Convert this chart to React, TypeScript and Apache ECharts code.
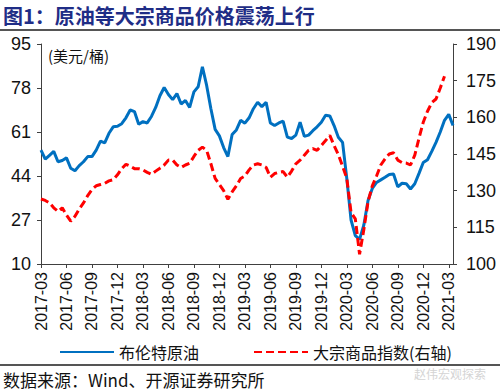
import React, { useEffect, useRef } from "react";
import * as echarts from "echarts";

// Half-monthly observation dates, 2017-03-01 .. 2021-03-16
const dates: string[] = [];
for (let i = 0; i < 98; i++) {
  const m = 2 + Math.floor(i / 2);
  const y = 2017 + Math.floor(m / 12);
  const mon = (m % 12) + 1;
  dates.push(`${y}-${mon < 10 ? "0" + mon : mon}-${i % 2 === 0 ? "01" : "16"}`);
}

// Brent crude, USD/bbl (left axis)
const brent: (number | null)[] = [
  54.0, 50.5, 52.0, 53.5, 49.5, 50.0, 51.0, 47.0, 46.0, 48.0,
  49.5, 51.5, 51.5, 54.0, 57.5, 56.8, 60.5, 63.0, 63.2, 64.2,
  66.5, 69.5, 68.9, 64.0, 65.0, 64.5, 67.0, 70.5, 75.0, 78.2,
  75.5, 73.5, 75.8, 71.8, 73.2, 70.5, 76.5, 78.5, 86.2, 79.0,
  70.0, 62.0, 59.5, 55.0, 51.5, 60.0, 61.8, 65.5, 64.4, 66.5,
  70.0, 72.5, 70.8, 72.5, 64.5, 63.5, 64.5, 65.2, 59.0, 58.5,
  59.8, 64.8, 59.3, 59.8, 61.5, 63.0, 64.8, 67.5, 67.2, 63.5,
  59.0, 57.0, 43.0, 27.0, 21.0, 19.5, 25.0, 34.5, 39.2, 41.5,
  42.5, 43.5, 44.6, 44.8, 39.8, 41.2, 41.0, 39.0, 41.0, 45.0,
  49.2, 50.3, 53.5, 57.0, 61.0, 65.5, 67.8, 63.5,
];

// Commodity index (right axis)
const commodity: (number | null)[] = [
  126.6, 126.0, 125.0, 123.0, 121.5, 123.0, 120.0, 117.5, 119.5, 122.5,
  125.0, 128.0, 130.5, 132.0, 132.5, 133.0, 134.0, 134.5, 136.5, 139.0,
  140.8, 140.0, 139.0, 139.0, 138.5, 137.5, 136.7, 138.0, 139.2, 140.5,
  142.5, 142.5, 140.5, 139.5, 140.5, 141.2, 144.0, 146.5, 147.8, 146.5,
  141.0, 135.0, 132.5, 130.0, 126.5, 129.5, 132.0, 135.0, 136.0, 138.5,
  140.5, 141.0, 140.5, 139.5, 135.5, 137.0, 137.5, 137.8, 135.5, 138.0,
  141.0, 142.5, 144.5, 146.5, 147.2, 146.5, 148.5, 150.5, 152.6, 148.5,
  144.8, 140.0, 135.0, 121.0, 118.5, 104.0, 114.0, 125.5, 132.0, 136.0,
  140.5, 143.0, 145.0, 145.5, 142.5, 141.5, 141.3, 140.5, 144.5, 151.5,
  158.0, 162.5, 166.0, 167.5, 172.0, 176.8, null, null,
];

const leftTicks = { min: 10, max: 95, interval: 17 };
const rightTicks = { min: 100, max: 190, interval: 15 };

const seriesNames = ["布伦特原油", "大宗商品指数(右轴)"];

export default function App() {
  const ref = useRef<HTMLDivElement>(null);
  useEffect(() => {
    if (!ref.current) return;
    const chart = echarts.init(ref.current, undefined, { renderer: "svg" });
    const axisColor = "#404040";
    const labelFont = "Liberation Sans, Arial, sans-serif";
    chart.setOption({
      animation: false,
      backgroundColor: "#ffffff",
      grid: { left: 41, right: 47, top: 44, bottom: 128, containLabel: false },
      legend: {
        data: seriesNames,
        left: 54,
        top: 339,
        itemWidth: 54,
        itemHeight: 12,
        itemGap: 54,
        itemStyle: { opacity: 0 },
        textStyle: {
          fontSize: 16,
          color: "#111",
          fontFamily: "Noto Sans CJK SC",
        },
      },
      xAxis: {
        type: "category",
        data: dates,
        boundaryGap: false,
        axisLine: { lineStyle: { color: axisColor, width: 1 } },
        axisTick: {
          interval: (i: number) => i % 6 === 0,
          length: 4,
          lineStyle: { color: axisColor },
        },
        axisLabel: {
          interval: (i: number) => i % 6 === 0,
          rotate: 90,
          margin: 8,
          fontSize: 16,
          color: "#111",
          fontFamily: labelFont,
          formatter: (v: string) => v.slice(0, 7),
        },
        splitLine: { show: false },
      },
      yAxis: [
        {
          type: "value",
          ...leftTicks,
          position: "left",
          axisLine: { show: true, lineStyle: { color: axisColor } },
          axisTick: { show: true, length: 4, lineStyle: { color: axisColor } },
          axisLabel: { fontSize: 18, color: "#111", margin: 10, fontFamily: labelFont },
          splitLine: { show: false },
        },
        {
          type: "value",
          ...rightTicks,
          position: "right",
          axisLine: { show: true, lineStyle: { color: axisColor } },
          axisTick: { show: true, length: 4, lineStyle: { color: axisColor } },
          axisLabel: { fontSize: 18, color: "#111", margin: 13, fontFamily: labelFont },
          splitLine: { show: false },
        },
      ],
      series: [
        {
          name: seriesNames[0],
          type: "line",
          yAxisIndex: 0,
          data: brent,
          symbol: "none",
          lineStyle: { color: "#0070c0", width: 3 },
          itemStyle: { color: "#0070c0" },
          z: 2,
        },
        {
          name: seriesNames[1],
          type: "line",
          yAxisIndex: 1,
          data: commodity,
          symbol: "none",
          lineStyle: { color: "#ff0000", width: 3, type: [8, 4] },
          itemStyle: { color: "#ff0000" },
          z: 3,
        },
      ],
      graphic: [
        {
          type: "text",
          left: 3,
          top: 5,
          style: {
            text: "图1：原油等大宗商品价格震荡上行",
            fontSize: 20,
            fontWeight: "bold",
            fill: "#1f2d86",
            fontFamily: "Noto Sans CJK SC",
          },
        },
        {
          type: "rect",
          shape: { x: 0, y: 29, width: 500, height: 2 },
          style: { fill: "#555" },
        },
        {
          type: "text",
          left: 48,
          top: 48,
          style: {
            text: "(美元/桶)",
            fontSize: 15,
            fill: "#111",
            fontFamily: "Noto Sans CJK SC",
          },
        },
        {
          type: "rect",
          shape: { x: 0, y: 364, width: 500, height: 2 },
          style: { fill: "#555" },
        },
        {
          type: "text",
          left: 3,
          top: 371,
          style: {
            text: "数据来源：Wind、开源证券研究所",
            fontSize: 17,
            fill: "#111",
            fontFamily: "Noto Sans CJK SC",
          },
        },
        {
          type: "text",
          left: 414,
          top: 367,
          style: {
            text: "赵伟宏观探索",
            fontSize: 12,
            fill: "#d4d4d4",
            fontFamily: "Noto Sans CJK SC",
          },
        },
      ],
    });
    return () => chart.dispose();
  }, []);
  return (
    <div
      ref={ref}
      style={{ position: "fixed", left: 0, top: 0, width: 500, height: 392, background: "#fff" }}
    />
  );
}
